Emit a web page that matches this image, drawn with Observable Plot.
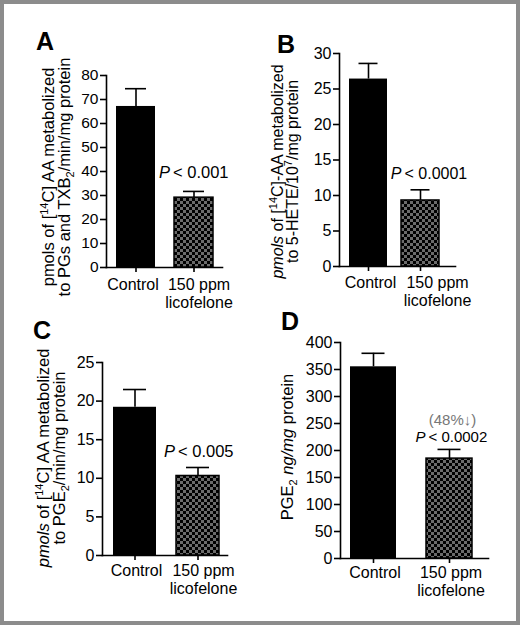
<!DOCTYPE html>
<html>
<head>
<meta charset="utf-8">
<script src="https://cdn.jsdelivr.net/npm/d3@7"></script>
<script src="https://cdn.jsdelivr.net/npm/@observablehq/plot@0.6"></script>
<style>
  body { margin: 0; background: #fff; }
  #fig { position: relative; width: 520px; height: 625px; font-family: "Liberation Sans", Arial, sans-serif; }
  #frame { position: absolute; left: 0; top: 0; width: 520px; height: 625px; box-sizing: border-box; border: 4px solid #8c8c8c; pointer-events: none; }
  .panel { position: absolute; }
  .panel svg line, .panel svg path { stroke-width: 1.6px; }
  #titles { position: absolute; left: 0; top: 0; pointer-events: none; }
</style>
</head>
<body>
<div id="fig">
  <svg width="0" height="0" style="position:absolute">
    <defs>
      <pattern id="checker" width="6" height="6" patternUnits="userSpaceOnUse">
        <rect width="6" height="6" fill="#6b6b6b"></rect>
        <rect width="3" height="3" fill="#000"></rect>
        <rect x="3" y="3" width="3" height="3" fill="#000"></rect>
      </pattern>
    </defs>
  </svg>
  <div id="panelA" class="panel"></div>
  <div id="panelB" class="panel"></div>
  <div id="panelC" class="panel"></div>
  <div id="panelD" class="panel"></div>
  <svg id="titles" width="520" height="625"></svg>
  <div id="frame"></div>
</div>
<script>
// groups (x axis)
const groups = ["Control", "150 ppm\nlicofelone"]

// A: pmols [14C] AA -> PGs and TXB2
const meanA = [67.1, 29.1]
const semA = [7.4, 2.6]
const ticksA = [0, 10, 20, 30, 40, 50, 60, 70, 80]
const pA = "< 0.001"

// B: pmols [14C]-AA -> 5-HETE
const meanB = [26.4, 9.3]
const semB = [2.2, 1.5]
const ticksB = [0, 5, 10, 15, 20, 25, 30]
const pB = "< 0.0001"

// C: pmols [14C] AA -> PGE2
const meanC = [19.2, 10.3]
const semC = [2.3, 1.1]
const ticksC = [0, 5, 10, 15, 20, 25]
const pC = "< 0.005"

// D: PGE2 ng/mg protein
const meanD = [355, 185]
const semD = [25, 17]
const ticksD = [0, 50, 100, 150, 200, 250, 300, 350, 400]
const pD = "< 0.0002"
const noteD = "(48%\u2193)"

const font = '"Liberation Sans", Arial, sans-serif'

function panel(sel, cfg) {
    let data = groups.map((g, i) => ({ group: g, mean: cfg.mean[i], hi: cfg.mean[i] + cfg.sem[i] }))
    let treated = data.slice(1)
    let fs = cfg.pSize || 16

    let marks = [
        Plot.ruleX(data, { x: 'group', y1: 'mean', y2: 'hi', stroke: 'black' }),
        Plot.tickY(data, { x: 'group', y: 'hi', insetLeft: cfg.cap, insetRight: cfg.cap, stroke: 'black' }),
        Plot.barY(data.slice(0, 1), { x: 'group', y: 'mean', fill: 'black' }),
        Plot.barY(treated, { x: 'group', y: 'mean', fill: 'url(#checker)', stroke: 'black', strokeWidth: 1.5 }),
    ]
    // category labels under the axis, one mark each so they can be nudged
    groups.forEach((g, i) => {
        marks.push(Plot.text([g], {
            x: d => d, text: d => d, frameAnchor: 'bottom', lineAnchor: 'top',
            dy: cfg.labelDy, dx: cfg.labelDx[i], lineHeight: 1.1, fontSize: 16
        }))
    })
    marks.push(
        Plot.text(treated, {
            x: 'group', y: 'hi', text: () => 'P', fontStyle: 'italic', fontSize: fs,
            textAnchor: 'end', lineAnchor: 'bottom', dx: cfg.pDx, dy: cfg.pDy
        }),
        Plot.text(treated, {
            x: 'group', y: 'hi', text: () => cfg.p, fontSize: fs,
            textAnchor: 'start', lineAnchor: 'bottom', dx: cfg.pDx + 3, dy: cfg.pDy
        })
    )
    if (cfg.note) {
        marks.push(Plot.text(treated, {
            x: 'group', y: 'hi', text: () => cfg.note, fontSize: fs, fill: '#777',
            lineAnchor: 'bottom', dx: 3, dy: cfg.noteDy
        }))
    }

    let chart = Plot.plot({
        width: cfg.w,
        height: cfg.h,
        marginLeft: cfg.mL,
        marginRight: cfg.mR,
        marginTop: cfg.mT,
        marginBottom: cfg.mB,
        style: { background: 'transparent', fontSize: cfg.tickSize + 'px', fontFamily: font, color: 'black', overflow: 'visible' },
        x: {
            domain: groups, paddingInner: cfg.pi, paddingOuter: cfg.po, align: cfg.align,
            tickSize: 5, tickFormat: () => '', line: true, label: null
        },
        y: {
            domain: [cfg.ticks[0], cfg.ticks[cfg.ticks.length - 1]],
            ticks: cfg.ticks, tickSize: 6, tickPadding: 2, line: true, label: null
        },
        marks: marks,
    })

    d3.select(sel).style('left', cfg.left + 'px').style('top', cfg.top + 'px').append(() => chart)
}

panel('#panelA', {
    mean: meanA, sem: semA, ticks: ticksA, p: pA, tickSize: 15.5,
    left: 0, top: 0, w: 260, h: 310, mL: 106, mR: 38, mT: 75, mB: 43,
    pi: 0.33, po: 0.165, align: 0.5, cap: 9, labelDy: 10, labelDx: [-3, 5],
    pSize: 16.5, pDx: -24, pDy: -13
})
panel('#panelB', {
    mean: meanB, sem: semB, ticks: ticksB, p: pB, tickSize: 16,
    left: 260, top: 0, w: 260, h: 310, mL: 79, mR: 65, mT: 53, mB: 44,
    pi: 0.27, po: 0.25, align: 0.37, cap: 9.5, labelDy: 9, labelDx: [2, 17],
    pSize: 16, pDx: -19, pDy: -11
})
panel('#panelC', {
    mean: meanC, sem: semC, ticks: ticksC, p: pC, tickSize: 16,
    left: 0, top: 310, w: 260, h: 315, mL: 102, mR: 33, mT: 52, mB: 70,
    pi: 0.317, po: 0.15, align: 0.58, cap: 10, labelDy: 8, labelDx: [1.5, 5.5],
    pSize: 16.5, pDx: -23, pDy: -10
})
panel('#panelD', {
    mean: meanD, sem: semD, ticks: ticksD, p: pD, note: noteD, tickSize: 16,
    left: 260, top: 310, w: 260, h: 315, mL: 80, mR: 32, mT: 32, mB: 67,
    pi: 0.395, po: 0.17, align: 0.38, cap: 11.5, labelDy: 7, labelDx: [1.5, 1.5],
    pSize: 15, pDx: -24, pDy: -7, noteDy: -24
})

// panel letters and rotated axis titles
const titles = d3.select('#titles').style('font-family', font)

const letters = [
    { t: 'A', x: 36, y: 50 },
    { t: 'B', x: 277, y: 53 },
    { t: 'C', x: 33, y: 339 },
    { t: 'D', x: 281, y: 330 },
]
titles.selectAll('text.letter').data(letters).join('text')
    .attr('class', 'letter')
    .attr('x', d => d.x).attr('y', d => d.y)
    .attr('font-size', 25).attr('font-weight', 'bold')
    .text(d => d.t)

// each line: list of [text, style]  (i = italic, sup, sub)
const axisTitles = [
    { x: 54, y: 177, size: 16.5, gap: 15.5, lines: [
        [['pmols of ['], ['14', 'sup'], ['C] AA metabolized']],
        [['to PGs and TXB'], ['2', 'sub'], ['/min/mg protein']],
    ] },
    { x: 283, y: 171.5, size: 16, gap: 14.5, lines: [
        [['pmols', 'i'], [' of ['], ['14', 'sup'], ['C]-AA metabolized']],
        [['to 5-HETE/10'], ['7', 'sup'], ['/mg protein']],
    ] },
    { x: 48.5, y: 458, size: 16.5, gap: 16, lines: [
        [['pmols', 'i'], [' of ['], ['14', 'sup'], ['C] AA metabolized']],
        [['to PGE'], ['2', 'sub'], ['/min/mg protein']],
    ] },
    { x: 293, y: 447, size: 16.5, gap: 0, lines: [
        [['PGE'], ['2', 'sub'], [' '], ['ng/mg', 'i'], [' protein']],
    ] },
]

axisTitles.forEach(a => {
    a.lines.forEach((segs, li) => {
        let txt = titles.append('text')
            .attr('transform', `translate(${a.x + li * a.gap},${a.y}) rotate(-90)`)
            .attr('text-anchor', 'middle')
            .attr('font-size', a.size)
        let shift = 0
        segs.forEach(([s, st]) => {
            let target = st === 'sup' ? -6 : st === 'sub' ? 4 : 0
            let ts = txt.append('tspan').text(s).attr('dy', target - shift)
            shift = target
            if (st === 'sup' || st === 'sub') ts.attr('font-size', 11)
            if (st === 'i') ts.attr('font-style', 'italic')
        })
    })
})
</script>
</body>
</html>
